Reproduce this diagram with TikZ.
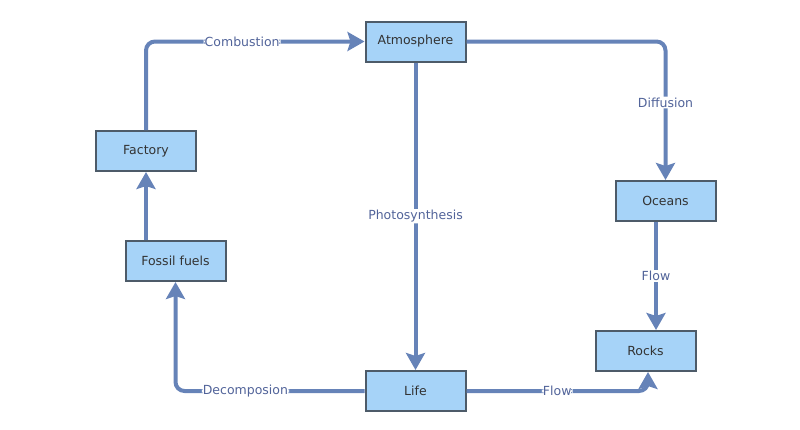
\documentclass[tikz,border=0pt]{standalone}
\usepackage{fontspec}
\setmainfont{DejaVu Sans}
\usepackage{tikz}
\usetikzlibrary{arrows.meta,positioning}
\definecolor{boxfill}{HTML}{A6D3F8}
\definecolor{boxdraw}{HTML}{4D5B69}
\definecolor{flowline}{HTML}{6683B8}
\definecolor{flowtext}{HTML}{52649A}
\tikzstyle{block} = [rectangle, minimum width=100pt, minimum height=40pt, text centered, draw=boxdraw, line width=2pt, fill=boxfill, text=black!80, font=\fontsize{12.5}{14}\selectfont]
\tikzstyle{line} = [draw=flowline, line width=4pt, rounded corners=9pt, -{Stealth[length=17pt,width=19pt,inset=3pt]}]
\tikzstyle{tag} = [fill=white, inner sep=1pt, text=flowtext, font=\fontsize{12.5}{14}\selectfont]

\begin{document}
\begin{tikzpicture}[x=1pt, y=-1pt]
				\useasboundingbox (0,0) rectangle (800,429);
				% Place nodes
				\node [block] (atmo) at (415.5,41.5) {Atmosphere};
				\node [block] (factory) at (146,151) {Factory};
				\node [block] (fossil) at (175.5,261) {Fossil fuels};
				\node [block] (oceans) at (665.5,201) {Oceans};
				\node [block] (rocks) at (645.5,351) {Rocks};
				\node [block] (life) at (415.5,391) {Life};
				% Draw edges
				\path [line] (factory.north) |- node [tag, pos=0.72] {Combustion} (atmo.west);
				\path [line] (atmo.east) -| node [tag, pos=0.72] {Diffusion} (oceans.north);
				\path [line] (atmo.south) -- node [tag] {Photosynthesis} (life.north);
				\path [line] ([xshift=-9.5pt]oceans.south) -- node [tag] {Flow} ([xshift=10.5pt]rocks.north);
				\path [line] (life.east) -| node [tag, pos=0.25] {Flow} ([xshift=2.5pt]rocks.south);
				\path [line] (life.west) -| node [tag, pos=0.315] {Decomposion} (fossil.south);
				\path [line] ([xshift=-29.5pt]fossil.north) -- (factory.south);
\end{tikzpicture}
\end{document}
